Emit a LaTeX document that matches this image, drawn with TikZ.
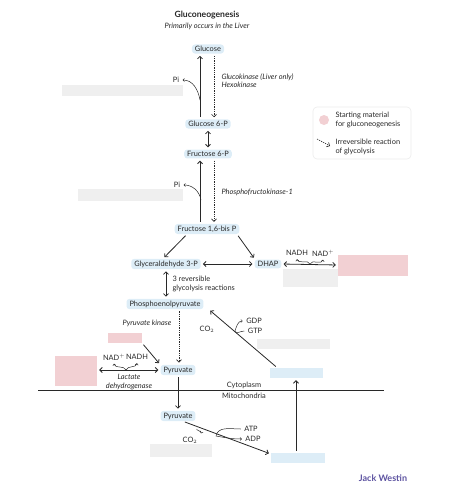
\documentclass[tikz,border=0pt]{standalone}
\usepackage{fontspec}
\setmainfont{Lato}
\usetikzlibrary{arrows.meta}
\usetikzlibrary{calc}
\usetikzlibrary{positioning}
\definecolor{metblue}{RGB}{221,237,247}
\definecolor{ink}{RGB}{40,40,40}
\definecolor{blankgray}{RGB}{239,239,239}
\definecolor{blankpink}{RGB}{242,208,211}
\definecolor{jwpurple}{RGB}{92,82,160}

\begin{document}
\begin{tikzpicture}[x=1pt, y=-1pt, font=\fontsize{7.4}{8.2}\selectfont, text=ink,
    >={Straight Barb[length=2.5pt,width=5pt]},
    met/.style={fill=metblue, rounded corners=3pt, inner xsep=3pt, inner ysep=1.8pt},
    blank/.style={inner sep=0pt},
    rxn/.style={draw=ink, line width=0.8pt},
    irr/.style={draw=ink, line width=0.7pt, dash pattern=on 1.3pt off 1pt},
    cof/.style={draw=ink, line width=0.5pt, >={Straight Barb[length=1.5pt,width=3pt]}},
    enz/.style={font=\fontsize{7.4}{8.2}\selectfont\itshape, align=left}]
\useasboundingbox (0,0) rectangle (474,504);

	% metabolites
	\begin{scope}[every node/.style={met}]
		\node (glc) at (208,49) {Glucose};
		\node (g6p) at (208,124) {Glucose 6-P};
		\node (f6p) at (208,154) {Fructose 6-P};
		\node (f16) at (207,229) {Fructose 1,6-bis P};
		\node (gap) at (166,264) {Glyceraldehyde 3-P};
		\node (dhap) at (268,264) {DHAP};
		\node (pep) at (165,304) {Phosphoenolpyruvate};
		\node (pyrc) at (178,370) {Pyruvate};
		\node (pyrm) at (178,416) {Pyruvate};
	\end{scope}

	% blanks
	\begin{scope}[every node/.style={blank}]
		\node[fill=metblue, minimum width=53, minimum height=10] (oaac) at (296,373) {};
		\node[fill=metblue, minimum width=54, minimum height=10] (oaam) at (298,458) {};
		\node[fill=blankgray, minimum width=121, minimum height=11] (gray1) at (122,90) {};
		\node[fill=blankgray, minimum width=105, minimum height=12] (gray2) at (130,195) {};
		\node[fill=blankgray, minimum width=55, minimum height=18] (gray3) at (310,278) {};
		\node[fill=blankgray, minimum width=73, minimum height=10] (gray4) at (293,344) {};
		\node[fill=blankgray, minimum width=62, minimum height=13] (gray5) at (181,450) {};
		\node[fill=blankpink, minimum width=70, minimum height=21] (pink1) at (373,265) {};
		\node[fill=blankpink, minimum width=34, minimum height=10] (pink2) at (125,338) {};
		\node[fill=blankpink, minimum width=42, minimum height=30] (pink3) at (76,371) {};
	\end{scope}

	% labels
	\node[font=\fontsize{8.6}{9}\selectfont\bfseries] (title) at (207,15) {Gluconeogenesis};
	\node[enz] (sub) at (207,26) {Primarily occurs in the Liver};
	\node (pi1) at (176,80) {Pi};
	\node (pi2) at (177,185) {Pi};
	\node[enz, anchor=west] (enz1) at (218,81) {Glucokinase (Liver only)\\Hexokinase};
	\node[enz, anchor=west] (enz2) at (218,192) {Phosphofructokinase-1};
	\node[align=left, anchor=west] (rev3) at (169,284) {3 reversible\\glycolysis reactions};
	\node[enz] (pk) at (147,323) {Pyruvate kinase};
	\node[enz, align=center, inner sep=1pt] (ldh) at (129,382) {Lactate\\dehydrogenase};
	\node (nadp1) at (114,357) {NAD$^+$};
	\node (nadh1) at (137,357) {NADH};
	\node (nadh2) at (297,253) {NADH};
	\node (nadp2) at (323,253) {NAD$^+$};
	\node (co2a) at (207,329) {CO$_2$};
	\node (gdp) at (254,321) {GDP};
	\node (gtp) at (255,331) {GTP};
	\node (co2b) at (190,440) {CO$_2$};
	\node (atp) at (251,429) {ATP};
	\node (adp) at (253,439) {ADP};
	\node (cyto) at (244,385) {Cytoplasm};
	\node (mito) at (244,396) {Mitochondria};
	\node[font=\fontsize{9}{10}\selectfont\bfseries, text=jwpurple] (jw) at (383,478) {Jack Westin};

	% legend
	\node[draw=black!8, line width=0.6pt, rounded corners=4pt, minimum width=98, minimum height=52] (legend) at (362,133) {};
	\node[circle, fill=blankpink, minimum size=10, inner sep=0pt] (dot) at (324,120) {};
	\node[align=left, anchor=west] (leg1) at (332,120) {Starting material\\for gluconeogenesis};
	\node[align=left, anchor=west] (leg2) at (332,147) {Irreversible reaction\\of glycolysis};
	\coordinate (la) at (317,139);
	\coordinate (lb) at (330,146);
	\draw[irr, line width=0.6pt, ->] (la) -- (lb);

	% compartments
	\coordinate (mleft) at (38,390);
	\coordinate (mright) at (384,390);
	\draw[draw=ink, line width=0.8pt] (mleft) -- (mright);

	% reactions
	\begin{scope}[shorten >=2pt, shorten <=2pt]
		\draw[rxn,->] ([xshift=-8]g6p.north) -- ([xshift=-8]g6p.north |- glc.south);
		\draw[irr,->] ([xshift=6]glc.south) -- ([xshift=6]glc.south |- g6p.north);
		\draw[rxn,<->] (g6p) -- (f6p);
		\draw[rxn,->] ([xshift=-7]f16.north) -- ([xshift=-7]f16.north |- f6p.south);
		\draw[irr,->] ([xshift=6]f6p.south) -- ([xshift=6]f6p.south |- f16.north);
		\draw[rxn,->] ([xshift=-20]f16.south) -- ([xshift=-3]gap.north);
		\draw[rxn,->] ([xshift=30]f16.south) -- ([xshift=-13]dhap.north);
		\draw[rxn,<->] (gap.east) -- (dhap.west);
		\draw[rxn,<->] (dhap.east) -- (pink1.west);
		\draw[rxn,<->] (gap.south) -- (gap.south |- pep.north);
		\draw[irr,->] ([xshift=14]pep.south) -- ([xshift=14]pep.south |- pyrc.north);
		\draw[rxn,->] ([xshift=8]oaac.north west) -- ([xshift=5]pep.south east);
		\draw[rxn,->] (pink2.south east) -- (pyrc.north west);
		\draw[rxn,<->] (pink3.east |- pyrc.west) -- (pyrc.west);
		\draw[rxn,->] (pyrc.south) -- (pyrm.north);
		\draw[rxn,->] ([xshift=5]pyrm.south) -- ([yshift=4]oaam.west);
		\draw[rxn,->] (oaac.south |- oaam.north) -- (oaac.south);
	\end{scope}

	% cofactors
	\coordinate (k1) at (200,100);
	\coordinate (k2) at (201,200);
	\coordinate (k3) at (310,264);
	\coordinate (k5) at ($([xshift=8]oaac.north west)!0.62!([xshift=5]pep.south east)$);
	\coordinate (k6) at (126,370);
	\coordinate (k7) at (216,436);
	\coordinate (k8) at (197,429);
	\draw[cof,->] (k1) to[out=100, in=0] (pi1.east);
	\draw[cof,->] (k2) to[out=100, in=0] (pi2.east);
	\draw[cof,->] (k3) to[out=110, in=-80] (nadh2.south);
	\draw[cof,->] (k3) to[out=70, in=-100] (nadp2.south);
	\draw[cof,->] (k6) to[out=110, in=-80] (nadp1.south);
	\draw[cof,->] (k6) to[out=70, in=-100] (nadh1.south);
	\draw[cof] (gtp.west) to[out=180, in=-40] (k5);
	\draw[cof,->] (k5) to[out=70, in=180] (gdp.west);
	\draw[cof] (atp.west) to[out=180, in=80] (k7);
	\draw[cof,->] (k7) to[out=-10, in=180] (adp.west);
	\draw[cof,->] (k8) to[out=200, in=60] (co2b.north east);
\end{tikzpicture}
\end{document}
